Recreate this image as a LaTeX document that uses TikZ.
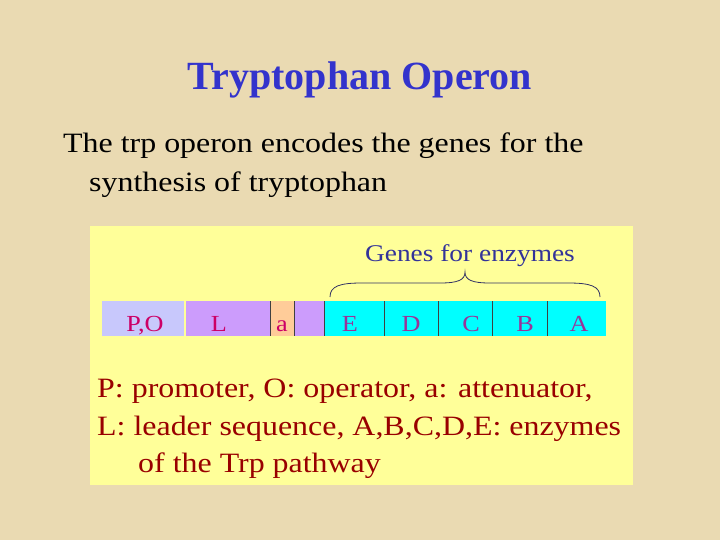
\documentclass[tikz,border=0pt]{standalone}
\usepackage{fontspec}
\setmainfont{Liberation Serif}
\newfontfamily\widefont[FakeStretch=1.14]{Liberation Serif}
\usepackage{tikz}
\definecolor{parch}{RGB}{234,218,178}
\definecolor{pale}{RGB}{255,255,153}
\definecolor{lav}{RGB}{200,200,252}
\definecolor{purp}{RGB}{204,156,252}
\definecolor{peach}{RGB}{255,204,153}
\definecolor{aqua}{RGB}{0,255,255}
\definecolor{titleblue}{RGB}{51,51,204}
\definecolor{geneblue}{RGB}{51,51,153}
\definecolor{magen}{RGB}{204,0,102}
\definecolor{plum}{RGB}{153,51,153}
\definecolor{darkred}{RGB}{153,0,0}
\definecolor{bracecol}{RGB}{50,50,100}

\begin{document}
\begin{tikzpicture}[x=1pt,y=-1pt,inner sep=0pt]
    \useasboundingbox(0,0)rectangle(720,540);
    \fill[parch](0,0)rectangle(720,540);
    \node[anchor=base,text=titleblue,font=\fontsize{40}{48}\selectfont\bfseries](title)at(360,90){Tryptophan Operon};
    \node[anchor=base west,font=\widefont\fontsize{28}{34}\selectfont](intro1)at(63,153){The trp operon encodes the genes for the};
    \node[anchor=base west,font=\widefont\fontsize{28}{34}\selectfont](intro2)at(89,192){synthesis of tryptophan};
    \fill[pale](90,226)rectangle(633,485);
    % operon bar
    \fill[lav](102,301)rectangle(184,336);
    \fill[purp](185.5,301)rectangle(270,336);
    \fill[peach](270,301)rectangle(294,336);
    \fill[purp](294,301)rectangle(324,336);
    \fill[aqua](324,301)rectangle(606,336);
    \foreach \xx in {270,294,324,384,438,492,547}
      \draw[black!75,semithick](\xx,301)--(\xx,336);
    \node[anchor=base,text=magen,font=\widefont\fontsize{23}{27}\selectfont](po)at(145,331){P,O};
    \node[anchor=base,text=magen,font=\widefont\fontsize{23}{27}\selectfont](lead)at(219,331){L};
    \node[anchor=base,text=magen,font=\widefont\fontsize{23}{27}\selectfont](att)at(282,331){a};
    \foreach \g/\xx in {E/350,D/411,C/471,B/525,A/579}
      \node[anchor=base,text=plum,font=\widefont\fontsize{23}{27}\selectfont](gene\g)at(\xx,331){\g};
    % brace over the enzyme genes
    \draw[bracecol,thick](330,297) .. controls (330,286) and (340,283) .. (362,283)--(440,283)
      .. controls (458,283) and (465,280) .. (465,272)
      .. controls (465,280) and (472,283) .. (490,283)--(568,283)
      .. controls (590,283) and (600,286) .. (600,297);
    \node[anchor=base,text=geneblue,font=\widefont\fontsize{24}{29}\selectfont](genes)at(470,261){Genes for enzymes};
    \node[anchor=base west,text=darkred,font=\widefont\fontsize{28}{34}\selectfont](key1)at(97,397){P: promoter, O: operator, a: attenuator,};
    \node[anchor=base west,text=darkred,font=\widefont\fontsize{28}{34}\selectfont](key2)at(97,435){L: leader sequence, A,B,C,D,E: enzymes};
    \node[anchor=base west,text=darkred,font=\widefont\fontsize{28}{34}\selectfont](key3)at(138,472){of the Trp pathway};
\end{tikzpicture}
\end{document}
